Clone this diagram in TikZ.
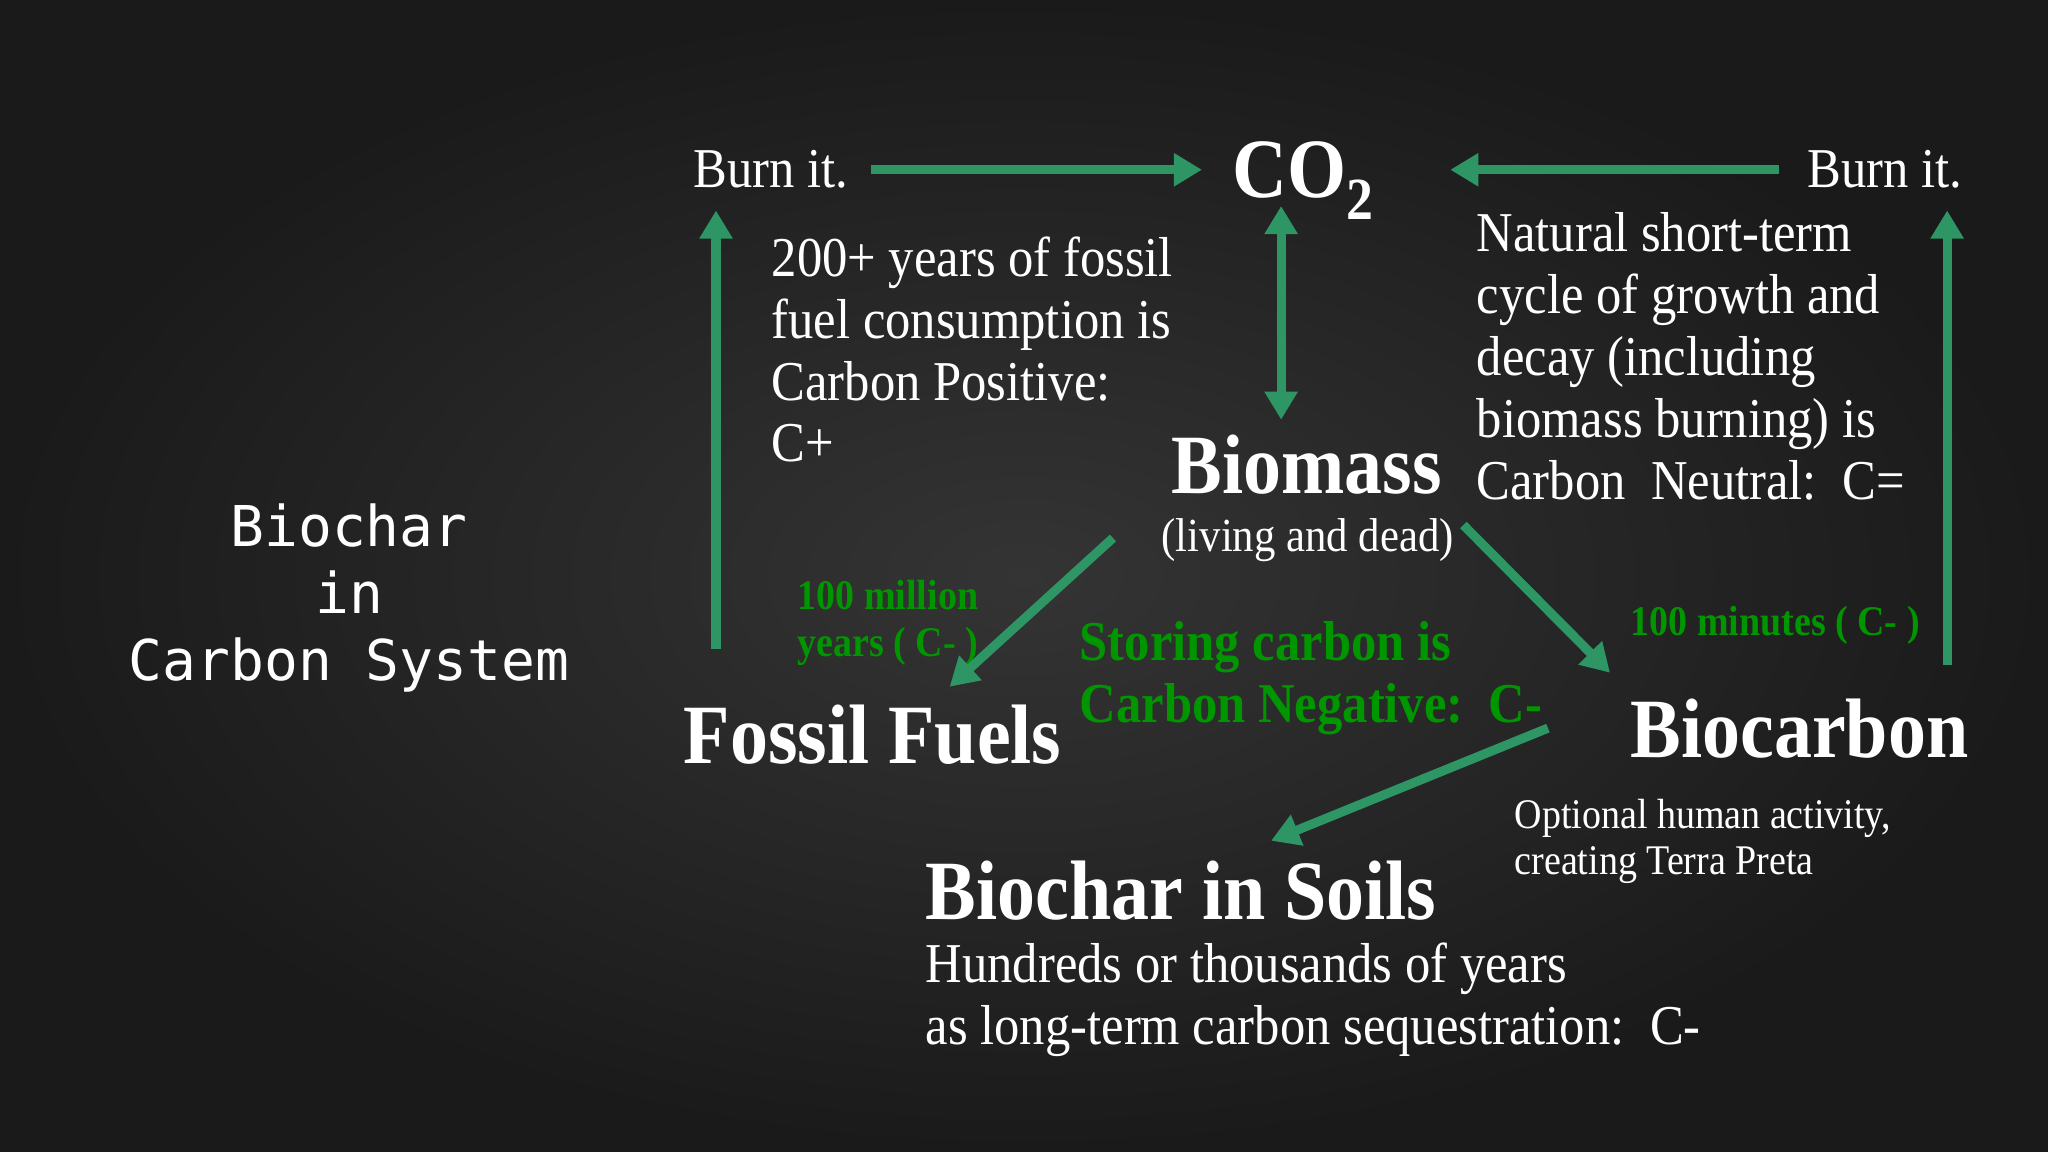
\documentclass[tikz,border=0pt]{standalone}
\usepackage{fontspec}
\setmainfont{Liberation Serif}[FakeStretch=0.9]
\setmonofont{DejaVu Sans Mono}
\usetikzlibrary{arrows.meta, positioning, calc}
\definecolor{boardgray}{RGB}{26,26,26}
\definecolor{boardlight}{RGB}{52,52,52}
\definecolor{arrowgreen}{RGB}{46,150,100}
\definecolor{textgreen}{RGB}{0,150,0}

\tikzset{
  arr/.style={-{Triangle[length=8pt, width=9pt]}, line width=2.6pt, draw=arrowgreen},
  arrboth/.style={{Triangle[length=8pt, width=9pt]}-{Triangle[length=8pt, width=9pt]}, line width=2.6pt, draw=arrowgreen},
  bodytext/.style={text=white, font=\fontsize{16}{17.6}\selectfont, align=left, inner sep=0pt},
  smalltext/.style={text=white, font=\fontsize{12}{12.8}\selectfont, align=left, inner sep=0pt},
  bigname/.style={text=white, font=\fontsize{24}{26}\selectfont\bfseries, inner sep=0pt},
  greennote/.style={text=textgreen, font=\fontsize{12}{13.3}\selectfont\bfseries, align=left, inner sep=0pt},
  greenbig/.style={text=textgreen, font=\fontsize{16}{17.6}\selectfont\bfseries, align=left, inner sep=0pt},
  titletext/.style={text=white, font=\ttfamily\fontsize{16}{19.1}\selectfont, align=center, inner sep=0pt}
}

\begin{document}
\begin{tikzpicture}[x=0.01cm, y=-0.01cm]
  % chalkboard
  \fill[boardgray] (0,0) rectangle (2048,1152);
  \shade[inner color=boardlight, outer color=boardgray] (0,0) rectangle (2048,1152);

  % title on the left
  \node[titletext, anchor=north] (title) at (349,503) {Biochar\\in\\Carbon System};

  % top row
  \node[bodytext, anchor=base west] (burnL) at (693,188) {Burn it.};
  \node[bodytext, anchor=base west] (burnR) at (1807,188) {Burn it.};
  \node[bigname, anchor=base west] (co2) at (1232,198) {CO\raisebox{-6pt}{\fontsize{17}{17}\selectfont 2}};

  % carbon pools
  \node[bigname, anchor=base west] (biomass) at (1171,494) {Biomass};
  \node[bodytext, font=\fontsize{13.5}{15}\selectfont, anchor=base west] (biomassSub) at (1161,551) {(living and dead)};
  \node[bigname, anchor=base west] (fossil) at (683,763) {Fossil Fuels};
  \node[bigname, anchor=base west] (biocarbon) at (1630,757) {Biocarbon};
  \node[bigname, anchor=base west] (soils) at (925,919) {Biochar in Soils};

  % notes
  \node[bodytext, anchor=north west] (fossilNote) at (771,236) {200+ years of fossil\\fuel consumption is\\Carbon Positive:\\C+};
  \node[bodytext, anchor=north west] (cycleNote) at (1476,212) {Natural short-term\\cycle of growth and\\decay (including\\biomass burning) is\\Carbon\ \ Neutral:\ \ C=};
  \node[bodytext, anchor=north west] (soilNote) at (925,942) {Hundreds or thousands of years\\as long-term carbon sequestration:\ \ C-};
  \node[smalltext, anchor=north west] (terraNote) at (1514,799) {Optional human activity,\\creating Terra Preta};

  % green notes
  \node[greennote, anchor=north west] (millionNote) at (797,580) {100 million\\years ( C- )};
  \node[greenbig, anchor=north west] (storeNote) at (1079,621) {Storing carbon is\\Carbon Negative:\ \ C-};
  \node[greennote, anchor=base west] (minuteNote) at (1630,636) {100 minutes ( C- )};

  % arrows
  \draw[arr, shorten <=0.22cm, shorten >=0.3cm] (burnL.east) -- (burnL.east -| co2.west);
  \draw[arr, shorten <=0.28cm, shorten >=0.76cm] (burnR.west) -- (burnR.west -| co2.east);
  \draw[arr, shorten <=0.55cm, shorten >=0.21cm] ([xshift=0.23cm]burnL.south west |- fossil.north) -- ([xshift=0.23cm]burnL.south west);
  \draw[arr, shorten <=0.33cm, shorten >=0.21cm] ([xshift=-0.16cm]burnR.south east |- biocarbon.north) -- ([xshift=-0.16cm]burnR.south east);
  \draw[arrboth, shorten <=0.08cm, shorten >=0.15cm] ([xshift=-0.22cm]co2.base) -- ([xshift=-0.22cm]co2.base |- biomass.north);
  \draw[arr] ([shift={(-0.48cm,0.13cm)}]biomassSub.base west) -- ([shift={(0.77cm,0.17cm)}]fossil.north);
  \draw[arr] ([shift={(0.09cm,0.26cm)}]biomassSub.base east) -- ([shift={(-0.2cm,0.25cm)}]biocarbon.north west);
  \draw[arr] ([xshift=-0.82cm]biocarbon.west) -- ([shift={(0.9cm,0.19cm)}]soils.north);
\end{tikzpicture}
\end{document}
